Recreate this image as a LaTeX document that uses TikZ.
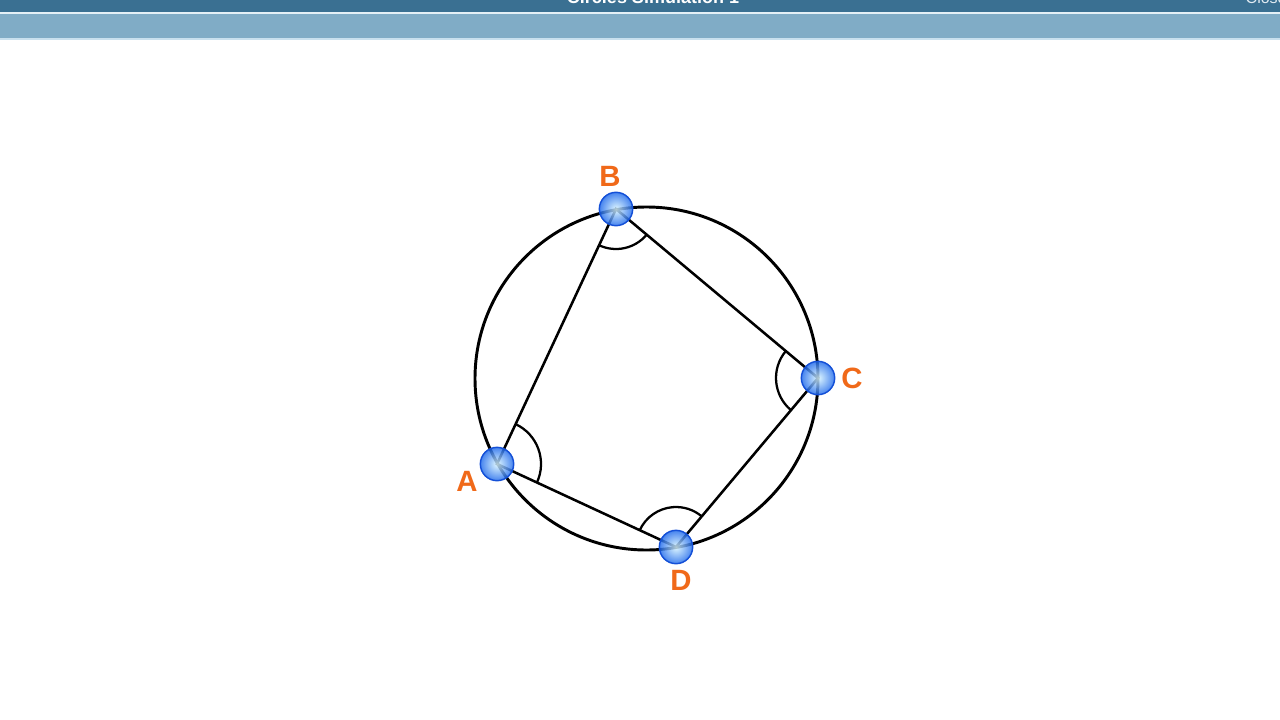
\documentclass[tikz,border=0pt]{standalone}
\usepackage{fontspec}
\setmainfont{Liberation Sans}
\definecolor{hdrdark}{RGB}{58,112,146}
\definecolor{hdrline}{RGB}{228,240,246}
\definecolor{hdrlight}{RGB}{128,172,198}
\definecolor{hdrlow}{RGB}{200,224,238}
\definecolor{closecol}{RGB}{225,235,242}
\definecolor{balledge}{RGB}{20,80,215}
\definecolor{ballin}{RGB}{215,245,255}
\definecolor{ballout}{RGB}{30,105,235}
\definecolor{lblorange}{RGB}{240,105,25}
\begin{document}
\begin{tikzpicture}[x=0.75pt,y=-0.75pt,
  chord/.style={line width=1.9pt,black},
  circ/.style={line width=2.2pt,black},
  anglearc/.style={line width=1.7pt,black},
  ball/.style={circle,minimum size=25pt,inner sep=0pt,draw=balledge,line width=1.1pt,
    inner color=ballin,outer color=ballout,fill opacity=0.82},
  lbl/.style={font=\bfseries\fontsize{22}{24}\selectfont,text=lblorange}]
\useasboundingbox (0,0) rectangle (1280,720);
\clip (0,0) rectangle (1280,720);
% header
\fill[hdrdark] (0,0) rectangle (1280,12);
\fill[hdrline] (0,12) rectangle (1280,14);
\fill[hdrlight] (0,14) rectangle (1280,38);
\fill[hdrlow] (0,38) rectangle (1280,40);
\node[anchor=base,font=\bfseries\fontsize{13.5}{15}\selectfont,text=white] (title) at (653,4) {Circles Simulation 1};
\node[anchor=base west,font=\fontsize{12}{14}\selectfont,text=closecol] (close) at (1241,4) {Close};
% circle
\coordinate (O) at (646.5,378.5);
\draw[circ] (O) circle[radius=171.5];
% points
\coordinate (B) at (616,209);
\coordinate (C) at (818,378);
\coordinate (A) at (497,464);
\coordinate (D) at (676,547);
% chords
\draw[chord] (A) -- (B) -- (C) -- (D) -- cycle;
% angle arcs
\draw[anglearc] (B) ++(40:40) arc[start angle=40,end angle=115,radius=40];
\draw[anglearc] (C) ++(130:42) arc[start angle=130,end angle=220,radius=42];
\draw[anglearc] (A) ++(-65:44) arc[start angle=-65,end angle=25,radius=44];
\draw[anglearc] (D) ++(205:40) arc[start angle=205,end angle=310,radius=40];
% balls
\node[ball] (bB) at (B) {};
\node[ball] (bC) at (C) {};
\node[ball] (bA) at (A) {};
\node[ball] (bD) at (D) {};
% labels
\node[lbl] (lB) at (610,176) {B};
\node[lbl] (lC) at (852,378) {C};
\node[lbl] (lA) at (467,481) {A};
\node[lbl] (lD) at (681,580) {D};
\end{tikzpicture}
\end{document}
